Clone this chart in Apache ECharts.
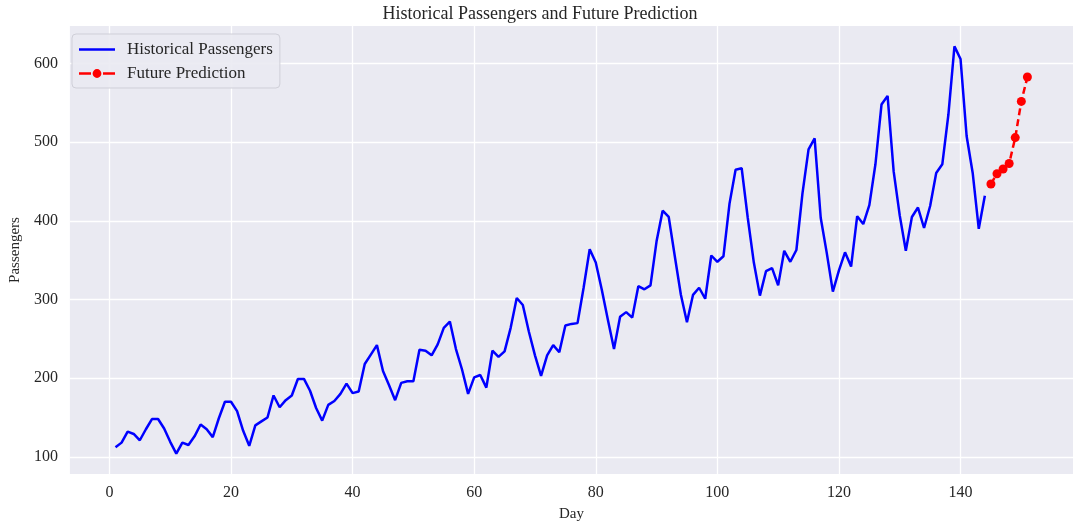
<!DOCTYPE html>
<html><head><meta charset="utf-8">
<script src="https://cdn.jsdelivr.net/npm/echarts@6/dist/echarts.min.js"></script>
<style>html,body{margin:0;padding:0;background:#fff}#c{width:1080px;height:527px}</style>
</head><body><div id="c"></div>
<script>
const historical = [
 112,118,132,129,121,135,148,148,136,119,104,118,
 115,126,141,135,125,149,170,170,158,133,114,140,
 145,150,178,163,172,178,199,199,184,162,146,166,
 171,180,193,181,183,218,230,242,209,191,172,194,
 196,196,236,235,229,243,264,272,237,211,180,201,
 204,188,235,227,234,264,302,293,259,229,203,229,
 242,233,267,269,270,315,364,347,312,274,237,278,
 284,277,317,313,318,374,413,405,355,306,271,306,
 315,301,356,348,355,422,465,467,404,347,305,336,
 340,318,362,348,363,435,491,505,404,359,310,337,
 360,342,406,396,420,472,548,559,463,407,362,405,
 417,391,419,461,472,535,622,606,508,461,390,432
];
const historicalStartDay = 1;
const prediction = [447, 460, 466, 473, 506, 552, 583];
const predictionStartDay = 145;
const xTicks = [0, 20, 40, 60, 80, 100, 120, 140];
const yTicks = [100, 200, 300, 400, 500, 600];

const histData = historical.map((v, i) => [historicalStartDay + i, v]);
const predData = prediction.map((v, i) => [predictionStartDay + i, v]);

const font = '"Liberation Serif", "DejaVu Serif", serif';
const txt = '#262626';
const chart = echarts.init(document.getElementById('c'));
chart.setOption({
  animation: false,
  backgroundColor: '#ffffff',
  textStyle: {fontFamily: font},
  title: {
    text: 'Historical Passengers and Future Prediction',
    left: 'center', top: 0,
    textStyle: {fontFamily: font, fontSize: 18, fontWeight: 'normal', color: txt}
  },
  legend: {
    left: 72, top: 34,
    orient: 'vertical',
    backgroundColor: 'rgba(234,234,242,0.9)',
    borderColor: '#cfcfd8', borderWidth: 1, borderRadius: 4,
    padding: [7, 7, 6, 7],
    itemGap: 7, itemWidth: 36, itemHeight: 10,
    symbolKeepAspect: true,
    textStyle: {fontFamily: font, fontSize: 17, color: txt, padding: [0, 0, 0, 7]},
    data: [
      {name: 'Historical Passengers', icon: 'path://M0,0H36V2.6H0Z'},
      {name: 'Future Prediction', icon: 'path://M0,3.7H12V6.3H0Z M24,3.7H36V6.3H24Z M18,0.6A4.4,4.4 0 1,1 18,9.4A4.4,4.4 0 1,1 18,0.6Z'}
    ]
  },
  grid: {left: 64, right: 7, top: 26, bottom: 53, show: true, backgroundColor: '#EAEAF2', borderWidth: 0},
  xAxis: {
    type: 'value', min: -6.5, max: 158.5,
    name: 'Day', nameLocation: 'middle', nameGap: 33,
    nameTextStyle: {fontFamily: font, fontSize: 15, color: txt},
    axisLine: {show: false}, axisTick: {show: false, customValues: xTicks},
    axisLabel: {customValues: xTicks, fontFamily: font, fontSize: 16, color: txt, margin: 11},
    splitLine: {show: true, lineStyle: {color: '#ffffff', width: 1.3}}
  },
  yAxis: {
    type: 'value', min: 78.1, max: 647.9,
    name: 'Passengers', nameLocation: 'middle', nameGap: 46,
    nameTextStyle: {fontFamily: font, fontSize: 15, color: txt},
    axisLine: {show: false}, axisTick: {show: false, customValues: yTicks},
    axisLabel: {customValues: yTicks, fontFamily: font, fontSize: 16, color: txt, margin: 12},
    splitLine: {show: true, lineStyle: {color: '#ffffff', width: 1.3}}
  },
  series: [
    {
      name: 'Historical Passengers', type: 'line', data: histData,
      showSymbol: false, symbol: 'none',
      lineStyle: {color: '#0000ff', width: 2.5},
      itemStyle: {color: '#0000ff'}
    },
    {
      name: 'Future Prediction', type: 'line', data: predData,
      symbol: 'circle', symbolSize: 9,
      lineStyle: {color: '#ff0000', width: 2.5, type: [7, 4]},
      itemStyle: {color: '#ff0000'}
    }
  ]
});
</script></body></html>
